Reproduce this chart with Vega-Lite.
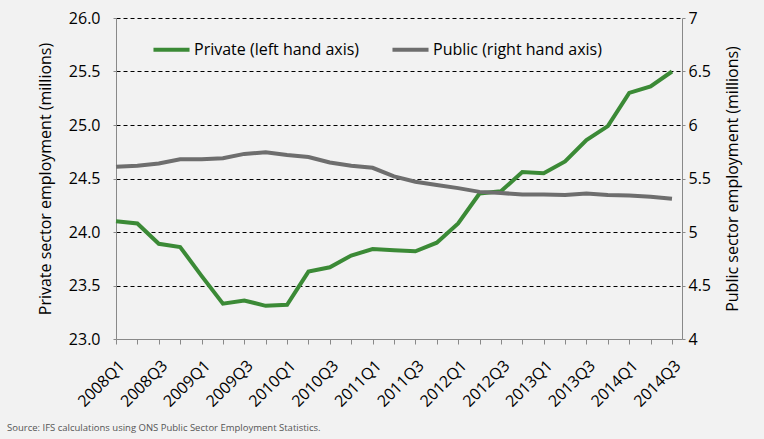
{
  "$schema": "https://vega.github.io/schema/vega-lite/v6.json",
  "width": 566,
  "height": 321,
  "autosize": {"type": "none"},
  "padding": {"left": 116, "top": 18, "right": 82, "bottom": 100},
  "background": "#f2f2f2",
  "config": {
    "view": {"stroke": null},
    "font": "Open Sans",
    "axis": {"titleFontWeight": "normal", "labelColor": "#000", "titleColor": "#000", "domainColor": "#898989", "tickColor": "#898989"}
  },
  "title": {
    "text": "Source: IFS calculations using ONS Public Sector Employment Statistics.",
    "orient": "bottom",
    "anchor": "start",
    "frame": "group",
    "fontSize": 9.5,
    "fontWeight": "normal",
    "color": "#555555",
    "dx": -109,
    "offset": 14
  },
  "data": {
    "values": [
      {"quarter": "2008Q1", "series": "Private (left hand axis)", "value": 24.10},
      {"quarter": "2008Q2", "series": "Private (left hand axis)", "value": 24.08},
      {"quarter": "2008Q3", "series": "Private (left hand axis)", "value": 23.89},
      {"quarter": "2008Q4", "series": "Private (left hand axis)", "value": 23.86},
      {"quarter": "2009Q1", "series": "Private (left hand axis)", "value": 23.59},
      {"quarter": "2009Q2", "series": "Private (left hand axis)", "value": 23.33},
      {"quarter": "2009Q3", "series": "Private (left hand axis)", "value": 23.36},
      {"quarter": "2009Q4", "series": "Private (left hand axis)", "value": 23.31},
      {"quarter": "2010Q1", "series": "Private (left hand axis)", "value": 23.32},
      {"quarter": "2010Q2", "series": "Private (left hand axis)", "value": 23.63},
      {"quarter": "2010Q3", "series": "Private (left hand axis)", "value": 23.67},
      {"quarter": "2010Q4", "series": "Private (left hand axis)", "value": 23.78},
      {"quarter": "2011Q1", "series": "Private (left hand axis)", "value": 23.84},
      {"quarter": "2011Q2", "series": "Private (left hand axis)", "value": 23.83},
      {"quarter": "2011Q3", "series": "Private (left hand axis)", "value": 23.82},
      {"quarter": "2011Q4", "series": "Private (left hand axis)", "value": 23.90},
      {"quarter": "2012Q1", "series": "Private (left hand axis)", "value": 24.08},
      {"quarter": "2012Q2", "series": "Private (left hand axis)", "value": 24.36},
      {"quarter": "2012Q3", "series": "Private (left hand axis)", "value": 24.38},
      {"quarter": "2012Q4", "series": "Private (left hand axis)", "value": 24.56},
      {"quarter": "2013Q1", "series": "Private (left hand axis)", "value": 24.55},
      {"quarter": "2013Q2", "series": "Private (left hand axis)", "value": 24.66},
      {"quarter": "2013Q3", "series": "Private (left hand axis)", "value": 24.86},
      {"quarter": "2013Q4", "series": "Private (left hand axis)", "value": 24.99},
      {"quarter": "2014Q1", "series": "Private (left hand axis)", "value": 25.30},
      {"quarter": "2014Q2", "series": "Private (left hand axis)", "value": 25.36},
      {"quarter": "2014Q3", "series": "Private (left hand axis)", "value": 25.50},
      {"quarter": "2008Q1", "series": "Public (right hand axis)", "value": 5.61},
      {"quarter": "2008Q2", "series": "Public (right hand axis)", "value": 5.62},
      {"quarter": "2008Q3", "series": "Public (right hand axis)", "value": 5.64},
      {"quarter": "2008Q4", "series": "Public (right hand axis)", "value": 5.68},
      {"quarter": "2009Q1", "series": "Public (right hand axis)", "value": 5.68},
      {"quarter": "2009Q2", "series": "Public (right hand axis)", "value": 5.69},
      {"quarter": "2009Q3", "series": "Public (right hand axis)", "value": 5.73},
      {"quarter": "2009Q4", "series": "Public (right hand axis)", "value": 5.745},
      {"quarter": "2010Q1", "series": "Public (right hand axis)", "value": 5.72},
      {"quarter": "2010Q2", "series": "Public (right hand axis)", "value": 5.70},
      {"quarter": "2010Q3", "series": "Public (right hand axis)", "value": 5.65},
      {"quarter": "2010Q4", "series": "Public (right hand axis)", "value": 5.62},
      {"quarter": "2011Q1", "series": "Public (right hand axis)", "value": 5.60},
      {"quarter": "2011Q2", "series": "Public (right hand axis)", "value": 5.52},
      {"quarter": "2011Q3", "series": "Public (right hand axis)", "value": 5.47},
      {"quarter": "2011Q4", "series": "Public (right hand axis)", "value": 5.44},
      {"quarter": "2012Q1", "series": "Public (right hand axis)", "value": 5.41},
      {"quarter": "2012Q2", "series": "Public (right hand axis)", "value": 5.375},
      {"quarter": "2012Q3", "series": "Public (right hand axis)", "value": 5.365},
      {"quarter": "2012Q4", "series": "Public (right hand axis)", "value": 5.35},
      {"quarter": "2013Q1", "series": "Public (right hand axis)", "value": 5.35},
      {"quarter": "2013Q2", "series": "Public (right hand axis)", "value": 5.345},
      {"quarter": "2013Q3", "series": "Public (right hand axis)", "value": 5.36},
      {"quarter": "2013Q4", "series": "Public (right hand axis)", "value": 5.345},
      {"quarter": "2014Q1", "series": "Public (right hand axis)", "value": 5.34},
      {"quarter": "2014Q2", "series": "Public (right hand axis)", "value": 5.33},
      {"quarter": "2014Q3", "series": "Public (right hand axis)", "value": 5.31}
    ]
  },
  "encoding": {
    "x": {
      "field": "quarter",
      "type": "ordinal",
      "sort": null,
      "scale": {"type": "point", "padding": 0.234, "align": 0},
      "axis": {
        "title": null,
        "labelAngle": -45,
        "labelAlign": "right",
        "labelBaseline": "top",
        "labelFontSize": 16,
        "labelPadding": 13,
        "tickSize": 5,
        "labelExpr": "(substring(datum.value, 4) == 'Q1' || substring(datum.value, 4) == 'Q3') ? datum.value : ''"
      }
    },
    "color": {
      "field": "series",
      "type": "nominal",
      "scale": {
        "domain": ["Private (left hand axis)", "Public (right hand axis)"],
        "range": ["#3b8a36", "#6e6e6e"]
      },
      "legend": {
        "title": null,
        "orient": "none",
        "direction": "horizontal",
        "legendX": 35,
        "legendY": 11,
        "symbolType": "stroke",
        "symbolSize": 1300,
        "symbolStrokeWidth": 4,
        "labelFontSize": 16,
        "labelColor": "#000",
        "labelLimit": 400,
        "labelOffset": 2,
        "columnPadding": 24
      }
    }
  },
  "layer": [
    {
      "transform": [{"filter": "datum.series === 'Private (left hand axis)'"}],
      "mark": {"type": "line", "strokeWidth": 4},
      "encoding": {
        "y": {
          "field": "value",
          "type": "quantitative",
          "scale": {"domain": [23, 26], "nice": false, "zero": false},
          "axis": {
            "title": "Private sector employment (millions)",
            "titleFontSize": 16,
            "labelFontSize": 16,
            "format": ".1f",
            "values": [23, 23.5, 24, 24.5, 25, 25.5, 26],
            "tickSize": 3,
            "labelPadding": 13,
            "titlePadding": 15,
            "grid": true,
            "gridColor": "#000",
            "gridDash": [4, 3],
            "gridOpacity": {"condition": {"test": "datum.value === 23", "value": 0}, "value": 1}
          }
        }
      }
    },
    {
      "transform": [{"filter": "datum.series === 'Public (right hand axis)'"}],
      "mark": {"type": "line", "strokeWidth": 4},
      "encoding": {
        "y": {
          "field": "value",
          "type": "quantitative",
          "scale": {"domain": [4, 7], "nice": false, "zero": false},
          "axis": {
            "orient": "right",
            "title": "Public sector employment (millions)",
            "titleFontSize": 16,
            "titleAngle": -90,
            "titleBaseline": "top",
            "labelFontSize": 16,
            "format": "~g",
            "values": [4, 4.5, 5, 5.5, 6, 6.5, 7],
            "tickSize": 3,
            "labelPadding": 3,
            "titlePadding": 14,
            "grid": false
          }
        }
      }
    }
  ],
  "resolve": {"scale": {"y": "independent"}}
}
